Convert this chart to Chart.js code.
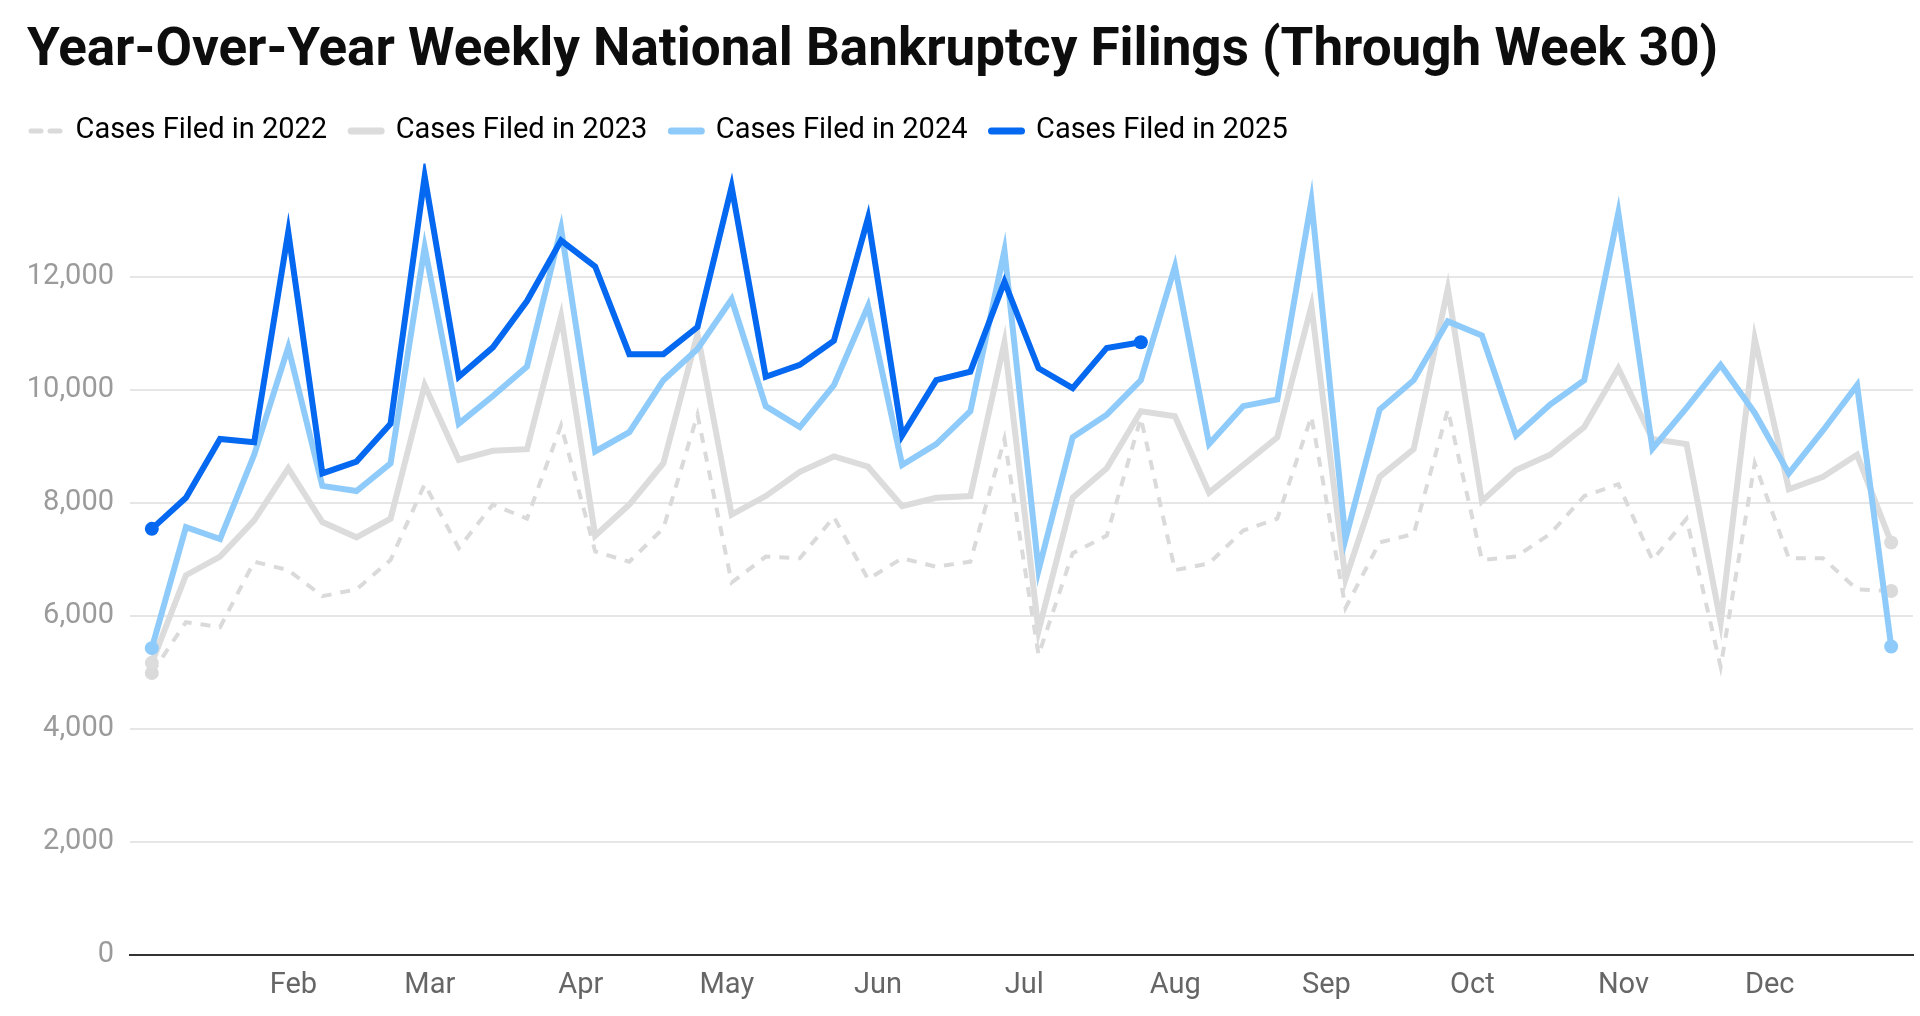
<!DOCTYPE html>
<html>
<head>
<meta charset="utf-8">
<title>Weekly National Bankruptcy Filings</title>
<script src="https://cdn.jsdelivr.net/npm/chart.js@4.4.1/dist/chart.umd.min.js"></script>
<style>
  html, body { margin: 0; padding: 0; background: #fff; }
  #wrap { width: 1920px; height: 1016px; position: relative; }
</style>
</head>
<body>
<div id="wrap"><canvas id="filings"></canvas></div>
<script>
// week number of the year
const weeks = [1, 2, 3, 4, 5, 6, 7, 8, 9, 10, 11, 12, 13, 14, 15, 16, 17, 18, 19, 20,
  21, 22, 23, 24, 25, 26, 27, 28, 29, 30, 31, 32, 33, 34, 35, 36, 37, 38, 39, 40,
  41, 42, 43, 44, 45, 46, 47, 48, 49, 50, 51, 52];

// cases filed per week
const cases2022 = [4990, 5890, 5800, 6960, 6810, 6350, 6470, 6990, 8330, 7200,
  7970, 7720, 9370, 7140, 6960, 7550, 9560, 6590, 7050, 7020,
  7750, 6650, 7020, 6870, 6960, 9130, 5310, 7110, 7420, 9500,
  6810, 6930, 7510, 7720, 9530, 6140, 7300, 7450, 9650, 6990,
  7050, 7450, 8120, 8330, 6990, 7720, 5100, 8700, 7020, 7020,
  6470, 6440];
const cases2023 = [5170, 6720, 7050, 7690, 8610, 7660, 7390, 7720, 10080, 8760,
  8920, 8950, 11300, 7420, 7970, 8700, 10990, 7790, 8120, 8550,
  8820, 8640, 7940, 8090, 8120, 10840, 5740, 8090, 8610, 9620,
  9530, 8180, 8670, 9160, 11480, 6650, 8460, 8950, 11790, 8030,
  8580, 8850, 9340, 10380, 9130, 9040, 5890, 10900, 8240, 8460,
  8850, 7300];
const cases2024 = [5430, 7570, 7360, 8850, 10750, 8300, 8210, 8700, 12520, 9400,
  9890, 10410, 12850, 8910, 9250, 10170, 10720, 11600, 9710, 9340,
  10080, 11480, 8670, 9040, 9620, 12460, 6810, 9160, 9560, 10170,
  12180, 9040, 9710, 9830, 13340, 7360, 9650, 10170, 11210, 10960,
  9190, 9740, 10170, 13130, 8960, 9680, 10440, 9590, 8520, 9280,
  10080, 5460];
const cases2025 = [7540, 8090, 9130, 9070, 12790, 8520, 8730, 9400, 13770, 10230,
  10750, 11570, 12640, 12180, 10630, 10630, 11110, 13590, 10230, 10440,
  10870, 13040, 9190, 10170, 10320, 11910, 10380, 10030, 10740, 10840];

// month labels and where each month starts, in weeks
const monthLabels = ["Feb", "Mar", "Apr", "May", "Jun", "Jul", "Aug", "Sep", "Oct", "Nov", "Dec"];
const monthWeeks = [5.15, 9.15, 13.58, 17.86, 22.29, 26.58, 31.01, 35.44, 39.72, 44.15, 48.44];

const yTicks = [0, 2000, 4000, 6000, 8000, 10000, 12000];

function toPoints(values) {
  return values.map((v, i) => ({ x: weeks[i], y: v }));
}

// only first and last point get a dot
function endDot(c) {
  const last = c.dataset.data.length - 1;
  return (c.dataIndex === 0 || c.dataIndex === last) ? 7 : 0;
}

function series(label, values, color, width, dash, order) {
  return {
    label: label,
    data: toPoints(values),
    borderColor: color,
    backgroundColor: color,
    borderWidth: width,
    borderDash: dash,
    pointRadius: endDot,
    pointHoverRadius: 0,
    pointBorderWidth: 0,
    pointBackgroundColor: color,
    tension: 0,
    order: order
  };
}

// extra room under the legend, and pull it back toward the left edge
const legendSpacing = {
  id: "legendSpacing",
  beforeInit(chart) {
    const fit = chart.legend.fit;
    chart.legend.fit = function () {
      fit.bind(chart.legend)();
      this.height += 8;
    };
  },
  afterLayout(chart) {
    chart.legend.left -= 20;
  }
};

const ctx = document.getElementById("filings").getContext("2d");
new Chart(ctx, {
  type: "line",
  data: {
    datasets: [
      series("Cases Filed in 2022", cases2022, "#dadada", 4, [10, 9], 4),
      series("Cases Filed in 2023", cases2023, "#dcdcdc", 6, [], 3),
      series("Cases Filed in 2024", cases2024, "#8fcbfa", 6, [], 2),
      series("Cases Filed in 2025", cases2025, "#0568f0", 6, [], 1)
    ]
  },
  plugins: [legendSpacing],
  options: {
    responsive: true,
    maintainAspectRatio: false,
    animation: false,
    events: [],
    layout: { padding: { left: 27, right: 2, top: 0, bottom: 0 } },
    font: { family: "Roboto" },
    scales: {
      x: {
        type: "linear",
        min: 0.36,
        max: 52.64,
        afterBuildTicks: (axis) => {
          axis.ticks = monthWeeks.map((w) => ({ value: w }));
        },
        ticks: {
          autoSkip: false,
          maxRotation: 0,
          padding: 13,
          color: "#666",
          font: { family: "Roboto", size: 29 },
          callback: (value, index) => monthLabels[index]
        },
        grid: { display: false, drawTicks: false },
        border: { display: true, color: "#333", width: 2 }
      },
      y: {
        min: 0,
        max: 14000,
        afterBuildTicks: (axis) => {
          axis.ticks = yTicks.map((v) => ({ value: v }));
        },
        afterFit: (axis) => { axis.width = 103; },
        ticks: {
          padding: 16,
          color: "#9b9b9b",
          font: { family: "Roboto", size: 29 },
          callback: (value) => value.toLocaleString("en-US")
        },
        grid: { color: "#e6e6e6", lineWidth: 2, drawTicks: false },
        border: { display: false }
      }
    },
    plugins: {
      title: {
        display: true,
        text: "Year-Over-Year Weekly National Bankruptcy Filings (Through Week 30)",
        align: "start",
        color: "#0d0d0d",
        font: { family: "Roboto", size: 53, weight: "bold" },
        padding: { top: 20, bottom: 9 }
      },
      legend: {
        display: true,
        align: "start",
        labels: {
          color: "#333",
          font: { family: "Roboto", size: 29 },
          padding: 24,
          usePointStyle: true,
          pointStyleWidth: 30,
          generateLabels: (chart) => chart.data.datasets.map((ds, i) => ({
            text: ds.label,
            datasetIndex: i,
            pointStyle: "line",
            strokeStyle: ds.borderColor,
            fillStyle: ds.borderColor,
            lineWidth: ds.borderWidth + 1,
            lineDash: ds.borderDash,
            lineCap: "round",
            hidden: false
          }))
        }
      },
      tooltip: { enabled: false }
    }
  }
});
</script>
</body>
</html>
